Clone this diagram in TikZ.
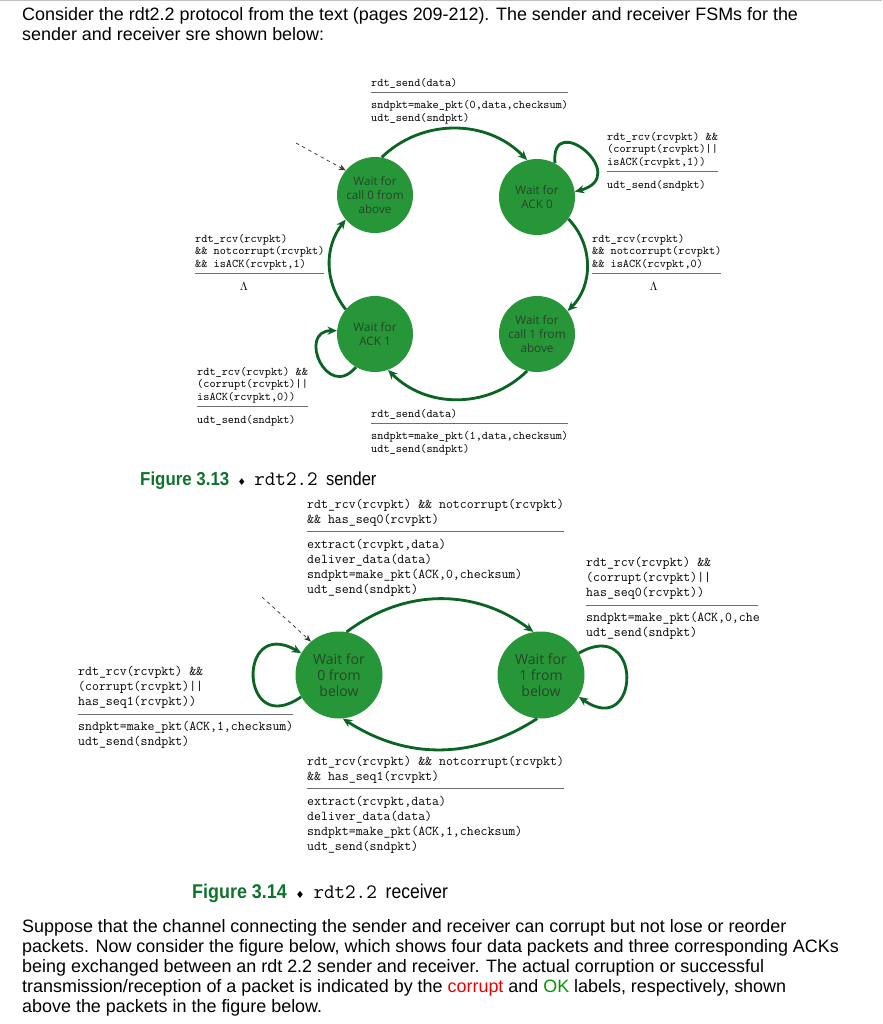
\documentclass[tikz,border=0pt]{standalone}
\usepackage{fontspec}
\usepackage{colortbl}
\setmainfont{Liberation Sans}
\newfontfamily\statefont{Open Sans}
\newfontfamily\capfont[FakeStretch=0.88]{Liberation Sans}
\newfontfamily\figfont[FakeStretch=0.9]{Liberation Sans Bold}
\newfontfamily\symfont{DejaVu Sans}
\usetikzlibrary{arrows.meta}

\definecolor{stategreen}{RGB}{38,150,56}
\definecolor{arcgreen}{RGB}{10,100,35}
\definecolor{statetext}{RGB}{40,70,40}
\definecolor{figgreen}{RGB}{15,115,45}
\definecolor{rulegray}{RGB}{110,110,110}
\definecolor{okgreen}{RGB}{0,150,0}
\definecolor{corruptred}{RGB}{235,0,0}

\arrayrulecolor{rulegray}
\setlength{\arrayrulewidth}{0.9pt}

% event above the rule, actions below
\newcommand{\fsmlabel}[3][1.5pt]{%
  \begin{tabular}[t]{@{}l@{}}#2\\[#1]\hline\rule{0pt}{13.5pt}#3\end{tabular}}
\newcommand{\textlines}[1]{\begin{tabular}[t]{@{}l@{}}#1\end{tabular}}

\begin{document}
\begin{tikzpicture}[x=0.03cm, y=0.03cm,
    state/.style={circle, fill=stategreen, text=statetext, align=center, inner sep=0pt,
      minimum size=2.28cm, font=\statefont\fontsize{10}{12}\selectfont},
    rstate/.style={state, minimum size=2.61cm, font=\statefont\fontsize{12}{13.5}\selectfont},
    trans/.style={-{Stealth[length=8pt,width=7pt]}, arcgreen, line width=2.4pt},
    init/.style={-{Stealth[length=6pt,width=5pt]}, dashed, black!80, line width=0.6pt},
    slabel/.style={anchor=base west, inner sep=0pt, font=\ttfamily\fontsize{10}{11}\selectfont},
    rlabel/.style={anchor=base west, inner sep=0pt, font=\ttfamily\fontsize{11.5}{13}\selectfont},
    para/.style={anchor=base west, inner sep=0pt, font=\fontsize{15.3}{17.2}\selectfont}]

    \useasboundingbox (0,0) rectangle (882,-1024);
    \fill[white] (0,0) rectangle (882,-1024);
    \draw[black!25, line width=1.2pt] (0,-0.5) -- (882,-0.5);

    % question text
    \node[para] (intro) at (22,-20) {\textlines{Consider the rdt2.2 protocol from the text (pages 209-212). The sender and receiver FSMs for the\\
      sender and receiver sre shown below:}};

    % sender states
    \node[state] (c0) at (375,-195) {Wait for\\call 0 from\\above};
    \node[state] (a0) at (537,-197) {Wait for\\ACK 0};
    \node[state] (a1) at (375,-334) {Wait for\\ACK 1};
    \node[state] (c1) at (537,-334) {Wait for\\call 1 from\\above};
    \coordinate (start0) at (296,-143);

    % sender transitions
    \draw[init] (start0) -- (c0.140);
    \draw[trans] (c0.80) to[bend left=45] (a0.105);
    \draw[trans] (a0.-35) to[bend left=45] (c1.37);
    \draw[trans] (c1.-105) to[bend left=45] (a1.-70);
    \draw[trans] (a1.140) to[bend left=38] (c0.-140);
    \draw[trans] (a0.62) .. controls +(95:55) and +(15:60) .. (a0.8);
    \draw[trans] (a1.-120) .. controls +(230:45) and +(180:40) .. (a1.175);

    % sender labels
    \node[slabel] (stop) at (371,-86) {\fsmlabel{rdt\_send(data)}{sndpkt=make\_pkt(0,data,checksum)\\udt\_send(sndpkt)}};
    \node[slabel] (sloop0) at (607,-140) {\fsmlabel{rdt\_rcv(rcvpkt) \&\&\\(corrupt(rcvpkt)||\\isACK(rcvpkt,1))}{udt\_send(sndpkt)}};
    \node[slabel] (sright) at (592,-242) {\fsmlabel{rdt\_rcv(rcvpkt)\\\&\& notcorrupt(rcvpkt)\\\&\& isACK(rcvpkt,0)}{\hspace*{49pt}$\Lambda$}};
    \node[slabel] (sleft) at (195,-242) {\fsmlabel{rdt\_rcv(rcvpkt)\\\&\& notcorrupt(rcvpkt)\\\&\& isACK(rcvpkt,1)}{\hspace*{38pt}$\Lambda$}};
    \node[slabel] (sloop1) at (197,-375) {\fsmlabel{rdt\_rcv(rcvpkt) \&\&\\(corrupt(rcvpkt)||\\isACK(rcvpkt,0))}{udt\_send(sndpkt)}};
    \node[slabel] (sbottom) at (371,-417) {\fsmlabel{rdt\_send(data)}{sndpkt=make\_pkt(1,data,checksum)\\udt\_send(sndpkt)}};

    \node[anchor=base west, inner sep=0pt] (cap13) at (140,-485)
      {\fontsize{16}{18}\selectfont{\figfont\color{figgreen}Figure 3.13}\,
       {\symfont\fontsize{8}{8}\selectfont ♦}\,
       {\ttfamily\fontsize{17.5}{19}\selectfont rdt2.2}\,
       {\capfont sender}};

    % receiver states
    \node[rstate] (z0) at (339,-675) {Wait for\\0 from\\below};
    \node[rstate] (z1) at (541,-675) {Wait for\\1 from\\below};
    \coordinate (start1) at (262,-597);

    % receiver transitions
    \draw[init] (start1) -- (z0.130);
    \draw[trans] (z0.80) to[bend left=37] (z1.100);
    \draw[trans] (z1.-95) to[bend left=33] (z0.-85);
    \draw[trans] (z0.210) .. controls +(215:75) and +(150:75) .. (z0.150);
    \draw[trans] (z1.30) .. controls +(30:75) and +(-35:75) .. (z1.-30);

    % receiver labels
    \node[rlabel] (rtop) at (307,-508) {\fsmlabel[3pt]{rdt\_rcv(rcvpkt) \&\& notcorrupt(rcvpkt)\\\&\& has\_seq0(rcvpkt)}{extract(rcvpkt,data)\\deliver\_data(data)\\sndpkt=make\_pkt(ACK,0,checksum)\\udt\_send(sndpkt)}};
    \begin{scope}
      \clip (560,-540) rectangle (758,-650);
      \node[rlabel] (rloop1) at (586,-566) {\fsmlabel[3pt]{rdt\_rcv(rcvpkt) \&\&\\(corrupt(rcvpkt)||\\has\_seq0(rcvpkt))}{sndpkt=make\_pkt(ACK,0,checksum)\\udt\_send(sndpkt)}};
    \end{scope}
    \node[rlabel] (rloop0) at (78,-675) {\fsmlabel[3pt]{rdt\_rcv(rcvpkt) \&\&\\(corrupt(rcvpkt)||\\has\_seq1(rcvpkt))}{sndpkt=make\_pkt(ACK,1,checksum)\\udt\_send(sndpkt)}};
    \node[rlabel] (rbottom) at (307,-765) {\fsmlabel[3pt]{rdt\_rcv(rcvpkt) \&\& notcorrupt(rcvpkt)\\\&\& has\_seq1(rcvpkt)}{extract(rcvpkt,data)\\deliver\_data(data)\\sndpkt=make\_pkt(ACK,1,checksum)\\udt\_send(sndpkt)}};

    \node[anchor=base west, inner sep=0pt] (cap14) at (192,-898)
      {\fontsize{17}{19}\selectfont{\figfont\color{figgreen}Figure 3.14}\,
       {\symfont\fontsize{8.5}{8.5}\selectfont ♦}\,
       {\ttfamily\fontsize{17.5}{19}\selectfont rdt2.2}\,
       {\capfont receiver}};

    \node[para] (question) at (22,-932) {\textlines{Suppose that the channel connecting the sender and receiver can corrupt but not lose or reorder\\
      packets. Now consider the figure below, which shows four data packets and three corresponding ACKs\\
      being exchanged between an rdt 2.2 sender and receiver. The actual corruption or successful\\
      transmission/reception of a packet is indicated by the \textcolor{corruptred}{corrupt} and \textcolor{okgreen}{OK} labels, respectively, shown\\
      above the packets in the figure below.}};

\end{tikzpicture}
\end{document}
